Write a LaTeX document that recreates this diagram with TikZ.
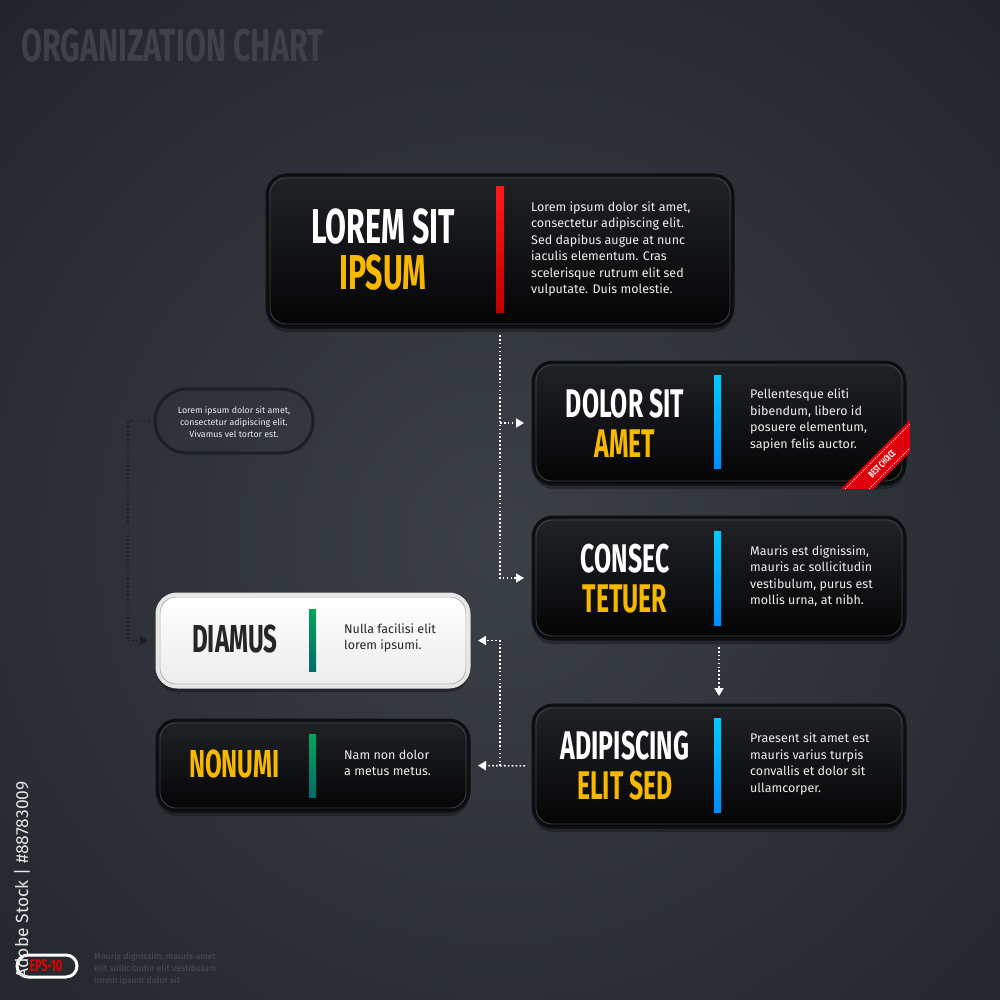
\documentclass[tikz,border=0pt]{standalone}
\usepackage{fontspec}
\setmainfont{Fira Sans}
\newfontfamily\headfont[FakeStretch=0.62]{Fira Sans}
\newfontfamily\titlefont[FakeStretch=0.66]{Fira Sans}
\usetikzlibrary{arrows.meta,shadows}

\definecolor{bgdark}{HTML}{22262C}
\definecolor{bglight}{HTML}{3B3F46}
\definecolor{cardtop}{HTML}{202226}
\definecolor{cardbot}{HTML}{040405}
\definecolor{cardedge}{HTML}{0D0E10}
\definecolor{cardrim}{HTML}{3E4147}
\definecolor{gold}{HTML}{F7B900}
\definecolor{titlegray}{HTML}{3D4148}
\definecolor{notedark}{HTML}{1C1F24}
\definecolor{footgray}{HTML}{4B5058}
\definecolor{ribbonred}{HTML}{E0000B}

\tikzset{
  card/.style={draw=cardedge, line width=3pt, rounded corners=20pt,
    top color=cardtop, bottom color=cardbot, outer sep=0pt,
    drop shadow={shadow xshift=0pt, shadow yshift=-5pt, opacity=.3, fill=black}},
  lightcard/.style={card, draw=white!80!gray, top color=white, bottom color=white!85!gray},
  rim/.style={draw=cardrim, line width=.9pt, rounded corners=16pt},
  head/.style={font=\headfont\bfseries\fontsize{40}{40}\selectfont, text=white,
    align=center, inner sep=0pt},
  desc/.style={font=\fontsize{12.5}{16.4}\selectfont, text=white!94!black,
    align=left, anchor=west, inner sep=0pt},
  small/.style={font=\fontsize{8.8}{12}\selectfont, inner sep=0pt},
  link/.style={draw=white, line width=1.6pt, dash pattern=on 1.6pt off 2.3pt,
    -{Triangle[length=8pt,width=9pt]}, shorten <=8pt, shorten >=9pt},
  notelink/.style={link, draw=notedark}
}

\begin{document}
\begin{tikzpicture}[x=1pt, y=-1pt]
  \useasboundingbox (0,0) rectangle (1000,1000);
  % background
  \begin{scope}
    \clip (0,0) rectangle (1000,1000);
    \fill[bgdark] (0,0) rectangle (1000,1000);
    \shade[inner color=bglight, outer color=bgdark] (500,540) circle (720pt);
  \end{scope}

  \node[font=\titlefont\bfseries\fontsize{46}{46}\selectfont, text=titlegray,
    anchor=west, inner sep=0pt] (title) at (21,46) {ORGANIZATION CHART};

  % cards
  \node[card, minimum width=466pt, minimum height=152pt] (lorem) at (500,251) {};
  \node[card, minimum width=372pt, minimum height=122pt] (dolor) at (719,423) {};
  \node[card, minimum width=372pt, minimum height=122pt] (consec) at (719,578) {};
  \node[card, minimum width=372pt, minimum height=122pt] (adip) at (719,766) {};
  \node[lightcard, minimum width=312pt, minimum height=93pt] (diamus) at (313,640.5) {};
  \node[card, minimum width=312pt, minimum height=91pt] (nonumi) at (313,765.5) {};

  \foreach \c in {lorem,dolor,consec,adip,nonumi} {
    \draw[rim] ([xshift=3pt,yshift=-3pt]\c.north west) rectangle ([xshift=-3pt,yshift=3pt]\c.south east);
  }
  \draw[rim, draw=gray!60] ([xshift=3pt,yshift=-3pt]diamus.north west) rectangle ([xshift=-3pt,yshift=3pt]diamus.south east);

  % colour bars
  \shade[top color=red!90!white, bottom color=red!75!black] (496,187) rectangle (504,312);
  \foreach \t/\b in {375/468, 531/625, 718/812} {
    \shade[top color=cyan!80!blue, bottom color=blue!45!cyan] (714,\t) rectangle (721,\b);
  }
  \foreach \t/\b in {609/671, 734/797} {
    \shade[top color=teal!70!green, bottom color=teal!85!black] (309,\t) rectangle (316,\b);
  }

  % headings
  \node[head, font=\headfont\bfseries\fontsize{49}{46}\selectfont] (loremhd) at (383,250) {LOREM SIT\\\textcolor{gold}{IPSUM}};
  \node[head] (dolorhd) at (625,423) {DOLOR SIT\\\textcolor{gold}{AMET}};
  \node[head] (consechd) at (625,578.5) {CONSEC\\\textcolor{gold}{TETUER}};
  \node[head] (adiphd) at (625,766) {ADIPISCING\\\textcolor{gold}{ELIT SED}};
  \node[head, font=\headfont\bfseries\fontsize{39}{39}\selectfont, text=black!85] (diamushd) at (235,638.5) {DIAMUS};
  \node[head, font=\headfont\bfseries\fontsize{39}{39}\selectfont, text=gold] (nonumihd) at (234.5,763.5) {NONUMI};

  % descriptions
  \node[desc] (loremtx) at (531,249) {Lorem ipsum dolor sit amet,\\consectetur adipiscing elit.\\Sed dapibus augue at nunc\\iaculis elementum. Cras\\scelerisque rutrum elit sed\\vulputate. Duis molestie.};
  \node[desc] (dolortx) at (750,420) {Pellentesque eliti\\bibendum, libero id\\posuere elementum,\\sapien felis auctor.};
  \node[desc] (consectx) at (750,576) {Mauris est dignissim,\\mauris ac sollicitudin\\vestibulum, purus est\\mollis urna, at nibh.};
  \node[desc] (adiptx) at (750,764) {Praesent sit amet est\\mauris varius turpis\\convallis et dolor sit\\ullamcorper.};
  \node[desc, text=black!85] (diamustx) at (344,638) {Nulla facilisi elit\\lorem ipsumi.};
  \node[desc] (nonumitx) at (344,763) {Nam non dolor\\a metus metus.};

  % ribbon
  \fill[ribbonred] (841,489) -- (910,420) -- (910,452) -- (873,489) -- cycle;
  \draw[white, line width=.6pt, dash pattern=on 1.5pt off 1pt] (845,489) -- (910,424);
  \draw[white, line width=.6pt, dash pattern=on 1.5pt off 1pt] (869,489) -- (910,448);
  \node[rotate=45, font=\headfont\bfseries\fontsize{9.5}{9.5}\selectfont, text=white, inner sep=0pt] (best) at (882,464) {BEST CHOICE};

  % note
  \node[draw=notedark, line width=3pt, rounded corners=32pt, minimum width=158pt,
    minimum height=64pt, outer sep=0pt] (note) at (234,421) {};
  \node[small, align=center, text=white!85!gray] (notetx) at (234,422) {Lorem ipsum dolor sit amet,\\consectetur adipiscing elit.\\Vivamus vel tortor est.};

  % connectors
  \coordinate (j1) at (lorem.south |- dolor.west);
  \coordinate (j2) at (lorem.south |- adip.west);
  \draw[link] (lorem.south) |- (consec.west);
  \draw[link, shorten <=0pt] (j1) -- (dolor.west);
  \draw[link] (consec.south) -- (adip.north);
  \draw[link] (adip.west) -- (nonumi.east);
  \draw[link, shorten <=0pt] (j2) |- (diamus.east);
  \draw[notelink, shorten <=5pt] (note.west) -- ++(-27,0) |- (diamus.west);

  % footer
  \node[draw=white, line width=3pt, rounded corners=11pt, minimum width=60pt,
    minimum height=22pt, inner sep=0pt] (eps) at (47,966) {};
  \node[font=\headfont\bfseries\fontsize{17}{17}\selectfont, text=red!90!black, inner sep=0pt] (epstx) at (46,966) {EPS-10};
  \node[small, align=left, anchor=west, text=footgray] (foot) at (94,969) {Mauris dignissim, mauris amet\\elit sollicitudin elit vestibulum\\lorem ipsum dolor sit};
  \node[rotate=90, font=\fontsize{17.5}{17.5}\selectfont, text=white!80!gray, inner sep=0pt] (stockid) at (22,880) {Adobe Stock | \#88783009};
\end{tikzpicture}
\end{document}
